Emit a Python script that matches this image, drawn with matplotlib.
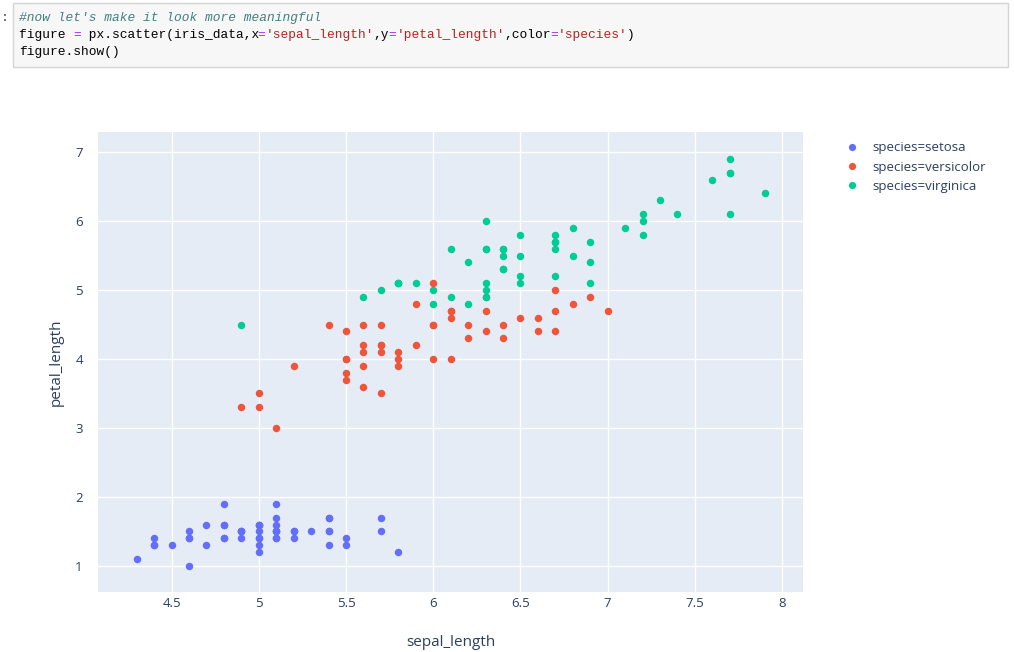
import matplotlib
matplotlib.use("Agg")
import matplotlib.pyplot as plt
from matplotlib.lines import Line2D
from matplotlib.patches import Rectangle

setosa_x = [5.1,4.9,4.7,4.6,5.0,5.4,4.6,5.0,4.4,4.9,5.4,4.8,4.8,4.3,5.8,5.7,5.4,5.1,5.7,5.1,5.4,5.1,4.6,5.1,4.8,5.0,5.0,5.2,5.2,4.7,4.8,5.4,5.2,5.5,4.9,5.0,5.5,4.9,4.4,5.1,5.0,4.5,4.4,5.0,5.1,4.8,5.1,4.6,5.3,5.0]
setosa_y = [1.4,1.4,1.3,1.5,1.4,1.7,1.4,1.5,1.4,1.5,1.5,1.6,1.4,1.1,1.2,1.5,1.3,1.4,1.7,1.5,1.7,1.5,1.0,1.7,1.9,1.6,1.6,1.5,1.4,1.6,1.6,1.5,1.5,1.4,1.5,1.2,1.3,1.5,1.3,1.5,1.3,1.3,1.3,1.6,1.9,1.4,1.6,1.4,1.5,1.4]
versicolor_x = [7.0,6.4,6.9,5.5,6.5,5.7,6.3,4.9,6.6,5.2,5.0,5.9,6.0,6.1,5.6,6.7,5.6,5.8,6.2,5.6,5.9,6.1,6.3,6.1,6.4,6.6,6.8,6.7,6.0,5.7,5.5,5.5,5.8,6.0,5.4,6.0,6.7,6.3,5.6,5.5,5.5,6.1,5.8,5.0,5.6,5.7,5.7,6.2,5.1,5.7]
versicolor_y = [4.7,4.5,4.9,4.0,4.6,4.5,4.7,3.3,4.6,3.9,3.5,4.2,4.0,4.7,3.6,4.4,4.5,4.1,4.5,3.9,4.8,4.0,4.9,4.7,4.3,4.4,4.8,5.0,4.5,3.5,3.8,3.7,3.9,5.1,4.5,4.5,4.7,4.4,4.1,4.0,4.4,4.6,4.0,3.3,4.2,4.2,4.2,4.3,3.0,4.1]
virginica_x = [6.3,5.8,7.1,6.3,6.5,7.6,4.9,7.3,6.7,7.2,6.5,6.4,6.8,5.7,5.8,6.4,6.5,7.7,7.7,6.0,6.9,5.6,7.7,6.3,6.7,7.2,6.2,6.1,6.4,7.2,7.4,7.9,6.4,6.3,6.1,7.7,6.3,6.4,6.0,6.9,6.7,6.9,5.8,6.8,6.7,6.7,6.3,6.5,6.2,5.9]
virginica_y = [6.0,5.1,5.9,5.6,5.8,6.6,4.5,6.3,5.8,6.1,5.1,5.3,5.5,5.0,5.1,5.3,5.5,6.7,6.9,5.0,5.7,4.9,6.7,4.9,5.7,6.0,4.8,4.9,5.6,5.8,6.1,6.4,5.6,5.1,5.6,6.1,5.6,5.5,4.8,5.4,5.6,5.1,5.1,5.9,5.7,5.2,5.0,5.2,5.4,5.1]

x_ticks = [4.5, 5, 5.5, 6, 6.5, 7, 7.5, 8]
x_labels = ["4.5", "5", "5.5", "6", "6.5", "7", "7.5", "8"]
y_ticks = [1, 2, 3, 4, 5, 6, 7]
species = ["species=setosa", "species=versicolor", "species=virginica"]
colors = ["#636EFA", "#EF553B", "#00CC96"]
INK = "#2a3f5f"
W, H = 1014, 652

fig = plt.figure(figsize=(W / 100, H / 100), dpi=100, facecolor="white")

# notebook code cell, in pixel coordinates
bg = fig.add_axes([0, 0, 1, 1], zorder=0)
bg.set_xlim(0, W); bg.set_ylim(H, 0); bg.axis("off")
bg.add_patch(Rectangle((12.5, 3.0), 995, 63.5, facecolor="#f7f7f7", edgecolor="#d4d4d4", lw=1))
bg.text(1, 18, ":", family="Liberation Mono", fontsize=9.5, color="#303f9f", va="center")

CH = 7.7
lines = [
    (17.5, [("#now let's make it look more meaningful", "#408080", "italic")]),
    (35, [("figure ", "#000000", "normal"), ("=", "#aa22ff", "normal"), (" px.scatter(iris_data,x", "#000000", "normal"),
            ("=", "#aa22ff", "normal"), ("'sepal_length'", "#ba2121", "normal"), (",y", "#000000", "normal"),
            ("=", "#aa22ff", "normal"), ("'petal_length'", "#ba2121", "normal"), (",color", "#000000", "normal"),
            ("=", "#aa22ff", "normal"), ("'species'", "#ba2121", "normal"), (")", "#000000", "normal")]),
    (52.5, [("figure.show()", "#000000", "normal")]),
]
for y, tokens in lines:
    n = 0
    for tok, col, sty in tokens:
        bg.text(19 + n * CH, y, tok, family="Liberation Mono", fontsize=9.25, color=col,
                style=sty, va="center", ha="left")
        n += len(tok)

# plot
ax = fig.add_axes([98 / W, 1 - 592 / H, (803 - 98) / W, (592 - 132) / H], zorder=1)
ax.set_facecolor("#E5ECF6")
ax.set_xlim(4.078, 8.12)
ax.set_ylim(0.623, 7.29)
for s in ax.spines.values():
    s.set_visible(False)
ax.set_xticks(x_ticks, x_labels)
ax.set_yticks(y_ticks)
ax.grid(True, color="white", lw=1)
ax.set_axisbelow(True)
ax.tick_params(axis="x", length=0, labelsize=9.5, labelcolor=INK, pad=3.5)
ax.tick_params(axis="y", length=0, labelsize=9.5, labelcolor=INK, pad=11)
for lab in ax.get_xticklabels() + ax.get_yticklabels():
    lab.set_family("Open Sans")

for xs, ys, c in zip([setosa_x, versicolor_x, virginica_x], [setosa_y, versicolor_y, virginica_y], colors):
    ax.scatter(xs, ys, s=29, color=c, linewidths=0, zorder=3, clip_on=False)

ax.set_xlabel("sepal_length", family="Open Sans", fontsize=11, color=INK, labelpad=18)
ax.set_ylabel("petal_length", family="Open Sans", fontsize=11, color=INK, labelpad=8)

handles = [Line2D([], [], ls="none", marker="o", ms=5.2, mfc=c, mec="none") for c in colors]
fig.legend(handles, species, loc="upper left", bbox_to_anchor=(845.4 / W, 1 - 141.5 / H), frameon=False,
           prop={"family": "Open Sans", "size": 9.5}, labelcolor=INK, handletextpad=1.08,
           handlelength=1.0, labelspacing=0.46, borderaxespad=0, borderpad=0)

fig.savefig("out.png", dpi=100)
